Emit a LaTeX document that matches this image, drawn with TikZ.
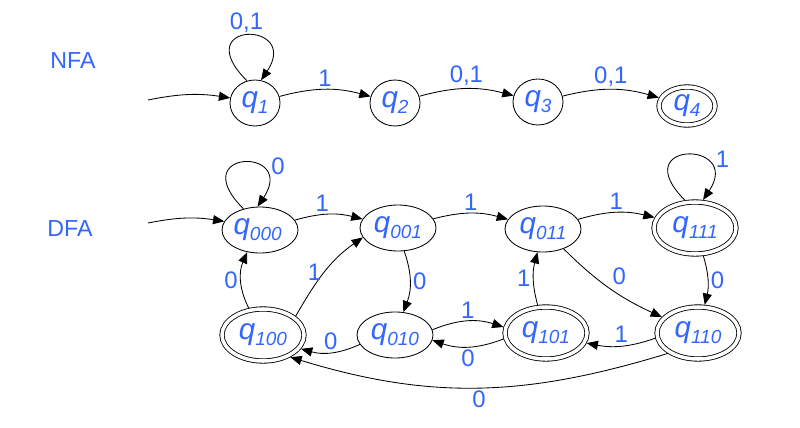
\documentclass[tikz,border=0pt]{standalone}
\usepackage{fontspec}
\setmainfont{Liberation Sans}
\usetikzlibrary{shapes.geometric}
\usetikzlibrary{arrows.meta}
\definecolor{fablue}{RGB}{51,102,255}
\newcommand{\qst}[1]{{\fontsize{21}{23}\selectfont\itshape q\raisebox{-0.15cm}{\fontsize{13.5}{15}\selectfont #1}}}
\tikzset{
	nfastyle/.style={ellipse,draw=black,fill=white,inner sep=0pt,minimum width=1.25cm,minimum height=1.15cm,text=fablue},
	dfastyle/.style={ellipse,draw=black,fill=white,inner sep=0pt,minimum width=1.9cm,minimum height=1.15cm,text=fablue},
	acceptstyle/.style={double,double distance=2.5pt,outer sep=1.8pt,minimum width=2.05cm,minimum height=1.3cm},
	edgelabel/.style={text=fablue,font=\fontsize{17}{19}\selectfont,inner sep=2pt},
	titlestyle/.style={text=fablue,font=\fontsize{16.5}{18}\selectfont},
	>={Triangle[length=8pt,width=6.5pt]}
}

\begin{document}
\begin{tikzpicture}[x=0.025cm,y=-0.025cm,line width=0.6pt]
	\useasboundingbox (0,0) rectangle (800,427);
	\node[titlestyle] (nfa) at (73,61) {NFA};
	\node[titlestyle] (dfa) at (70,229) {DFA};
	% NFA
	\coordinate (ninit) at (148,100);
	\node[nfastyle] (q1) at (255,103) {\qst{1}};
	\node[nfastyle] (q2) at (395,103) {\qst{2}};
	\node[nfastyle] (q3) at (538,102) {\qst{3}};
	\node[nfastyle,acceptstyle,minimum width=1.4cm,minimum height=0.95cm] (q4) at (687,106) {\qst{4}};
	\draw[->] (ninit) to[bend left=10] (q1);
	\draw[->] (q1.110) .. controls +(-60,-60) and +(40,-60) .. (q1.75) node[edgelabel,pos=0.5,above] {0,1};
	\draw[->] (q1) to[bend left=15] node[edgelabel,above] {1} (q2);
	\draw[->] (q2) to[bend left=15] node[edgelabel,above] {0,1} (q3);
	\draw[->] (q3) to[bend left=15] node[edgelabel,above] {0,1} (q4);
	% DFA
	\coordinate (dinit) at (148,223);
	\node[dfastyle] (q000) at (260,230) {\qst{000}\hspace*{0.12cm}};
	\node[dfastyle] (q001) at (398,228) {\qst{001}};
	\node[dfastyle] (q011) at (543,229) {\qst{011}};
	\node[dfastyle,acceptstyle] (q111) at (695,228) {\qst{111}};
	\node[dfastyle,acceptstyle] (q100) at (263,335) {\qst{100}};
	\node[dfastyle] (q010) at (395,335) {\qst{010}};
	\node[dfastyle,acceptstyle] (q101) at (546,333) {\qst{101}};
	\node[dfastyle,acceptstyle] (q110) at (698,333) {\qst{110}};
	\draw[->] (dinit) to[bend left=10] (q000);
	\draw[->] (q000.128) .. controls +(-60,-60) and +(40,-60) .. (q000.96) node[edgelabel,pos=0.65,right=8pt] {0};
	\draw[->] (q000) to[bend left=15] node[edgelabel,above,pos=0.4] {1} (q001);
	\draw[->] (q001) to[bend left=15] node[edgelabel,above] {1} (q011);
	\draw[->] (q011) to[bend left=15] node[edgelabel,above] {1} (q111);
	\draw[->] (q111.110) .. controls +(-60,-60) and +(40,-60) .. (q111.74) node[edgelabel,pos=0.65,right=8pt] {1};
	\draw[->] (q011) to[bend right=10] node[edgelabel,above right] {0} (q110);
	\draw[->] (q111) to[bend left=15] node[edgelabel,right] {0} (q110);
	\draw[->] (q001.285) to[bend left=20] node[edgelabel,right] {0} (q010.70);
	\draw[->] (q100.118) to[bend left=25] node[edgelabel,left] {0} (q000.240);
	\draw[->] (q100.30) to[out=60,in=215] node[edgelabel,left] {1} (q001.195);
	\draw[->] (q010.195) to[bend left=20] node[edgelabel,above] {0} (q100.340);
	\draw[->] (q010.8) to[bend left=20] node[edgelabel,above] {1} (q101.172);
	\draw[->] (q101.188) to[bend left=20] node[edgelabel,below] {0} (q010.352);
	\draw[->] (q101) to[bend left=15] node[edgelabel,left] {1} (q011);
	\draw[->] (q110.187) to[bend left=15] node[edgelabel,above] {1} (q101.346);
	\draw[->] (q110.214) to[out=197,in=-17] node[edgelabel,below] {0} (q100.321);
\end{tikzpicture}
\end{document}
